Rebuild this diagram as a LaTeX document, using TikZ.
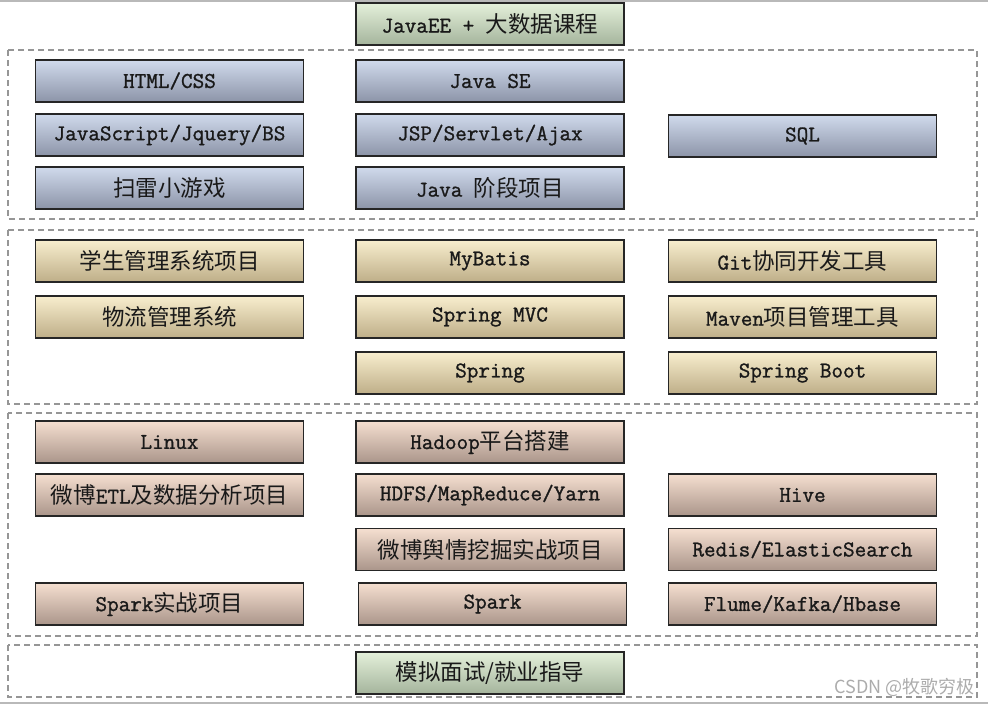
\documentclass[tikz,border=0pt]{standalone}
\usepackage{fontspec}
\newfontfamily\latnfont[FakeBold=1.2]{Latin Modern Mono}
\newfontfamily\chnfont{Noto Sans CJK SC}
\newcommand\tla[1]{{\latnfont\fontsize{22.5}{23}\selectfont #1}}
\newcommand\tch[1]{{\chnfont\fontsize{22.5}{23}\selectfont #1}}
\definecolor{bluetop}{RGB}{208,218,236}
\definecolor{bluebot}{RGB}{140,148,168}
\definecolor{tantop}{RGB}{248,238,206}
\definecolor{tanbot}{RGB}{190,174,136}
\definecolor{pinktop}{RGB}{245,223,208}
\definecolor{pinkbot}{RGB}{170,149,138}
\definecolor{greentop}{RGB}{228,240,218}
\definecolor{greenbot}{RGB}{164,180,156}
\definecolor{dashgray}{RGB}{150,150,150}
\tikzset{
  box/.style={draw=black!85, line width=1.7pt, minimum width=268pt, minimum height=42pt, inner sep=0pt, text=black!90},
  bluebox/.style={box, top color=bluetop, bottom color=bluebot},
  tanbox/.style={box, top color=tantop, bottom color=tanbot},
  pinkbox/.style={box, top color=pinktop, bottom color=pinkbot},
  greenbox/.style={box, top color=greentop, bottom color=greenbot},
  group/.style={draw=dashgray, line width=1.4pt, dash pattern=on 6pt off 4pt},
}
\begin{document}
\begin{tikzpicture}[x=1pt,y=-1pt]
\useasboundingbox (0,0) rectangle (988,705);
\draw[gray!55, line width=1.5pt] (0,1) -- (988,1);
\draw[gray!55, line width=1.5pt] (0,703) -- (988,703);
% groups
\draw[group] (8,50) rectangle (977,219);
\draw[group] (8,230) rectangle (977,404);
\draw[group] (8,413) rectangle (977,636);
\draw[group] (8,645) rectangle (977,697);
% title
\node[greenbox] (title) at (490,24) {\tla{JavaEE + }\tch{大数据课程}};
% group 1
\node[bluebox] (html) at (169.5,81) {\tla{HTML/CSS}};
\node[bluebox] (js) at (169.5,135) {\tla{JavaScript/Jquery/BS}};
\node[bluebox] (saolei) at (169.5,188) {\tch{扫雷小游戏}};
\node[bluebox] (javase) at (490,81) {\tla{Java SE}};
\node[bluebox] (jsp) at (490,135) {\tla{JSP/Servlet/Ajax}};
\node[bluebox] (javaproj) at (490,188) {\tla{Java }\tch{阶段项目}};
\node[bluebox] (sql) at (802.5,136) {\tla{SQL}};
% group 2
\node[tanbox] (xuesheng) at (169.5,261) {\tch{学生管理系统项目}};
\node[tanbox] (wuliu) at (169.5,317) {\tch{物流管理系统}};
\node[tanbox] (mybatis) at (490,261) {\tla{MyBatis}};
\node[tanbox] (springmvc) at (490,317) {\tla{Spring MVC}};
\node[tanbox] (spring) at (490,373) {\tla{Spring}};
\node[tanbox] (git) at (802.5,261) {\tla{Git}\tch{协同开发工具}};
\node[tanbox] (maven) at (802.5,317) {\tla{Maven}\tch{项目管理工具}};
\node[tanbox] (boot) at (802.5,373) {\tla{Spring Boot}};
% group 3
\node[pinkbox] (linux) at (169.5,442) {\tla{Linux}};
\node[pinkbox] (etl) at (169.5,495) {\tch{微博}\tla{ETL}\tch{及数据分析项目}};
\node[pinkbox] (sparkproj) at (169.5,604) {\tla{Spark}\tch{实战项目}};
\node[pinkbox] (hadoop) at (490,442) {\tla{Hadoop}\tch{平台搭建}};
\node[pinkbox] (hdfs) at (490,495) {\tla{HDFS/MapReduce/Yarn}};
\node[pinkbox] (yuqing) at (490,549.5) {\tch{微博舆情挖掘实战项目}};
\node[pinkbox] (spark) at (492.5,604) {\tla{Spark}};
\node[pinkbox] (hive) at (802.5,495) {\tla{Hive}};
\node[pinkbox] (redis) at (802.5,549.5) {\tla{Redis/ElasticSearch}};
\node[pinkbox] (flume) at (802.5,604) {\tla{Flume/Kafka/Hbase}};
% group 4
\node[greenbox] (mianshi) at (490,673) {\tch{模拟面试/就业指导}};
% watermark
\node[anchor=east, text=gray!65, inner sep=0pt] (wm) at (975,687) {\chnfont\fontsize{18}{19}\selectfont CSDN @牧歌穷极};
\end{tikzpicture}
\end{document}
